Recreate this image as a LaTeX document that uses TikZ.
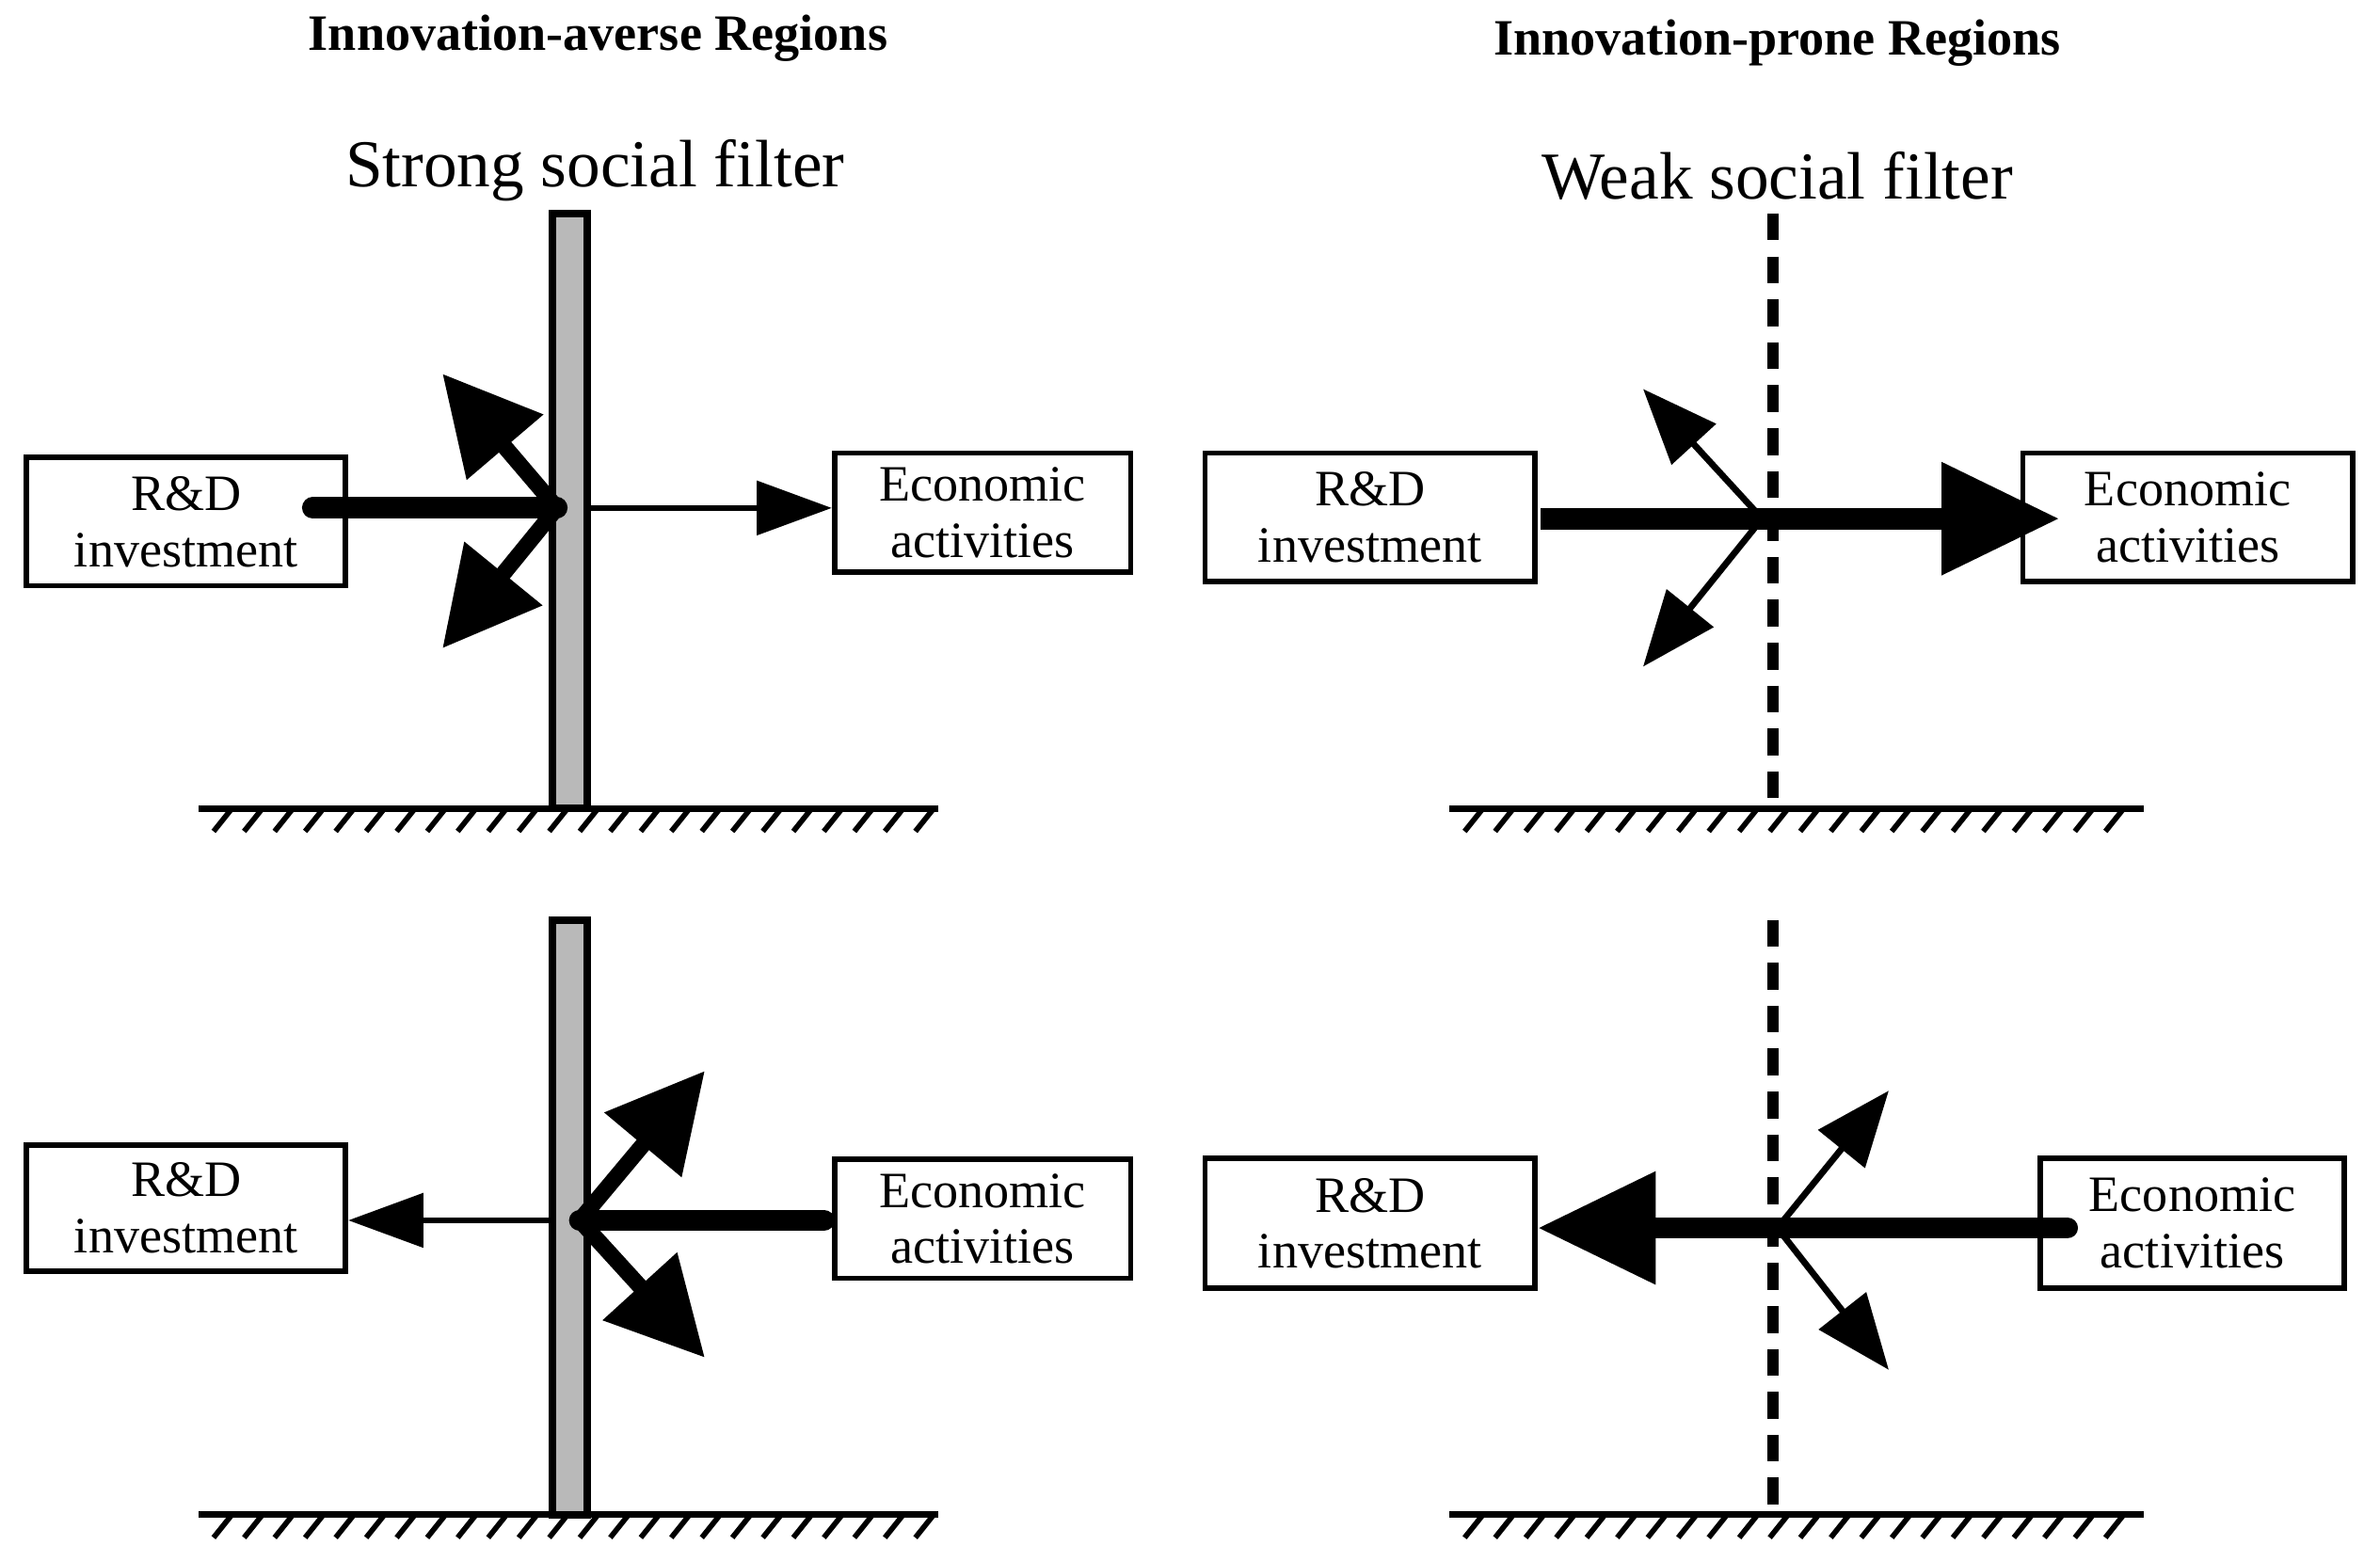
\documentclass[tikz,border=0pt]{standalone}
\usepackage{fontspec}
\setmainfont{Liberation Serif}
\usetikzlibrary{arrows.meta,patterns,positioning}

\begin{document}
\begin{tikzpicture}[
x=0.01cm, y=-0.01cm,
box/.style={
  draw,
  line width=1pt,
  align=center,
  inner sep=0pt,
  font=\fontsize{9.5}{10.5}\selectfont
  },
wall/.style={
  draw,
  line width=1.4pt,
  fill=gray!55
  },
weak/.style={
  line width=2pt,
  dash pattern=on 5pt off 3pt
  },
flow/.style={
  line width=4pt,
  -{Triangle[length=22pt,width=20pt]}
  },
stream/.style={
  line width=1pt,
  -{Triangle[length=14pt,width=10pt]}
  },
bounce/.style={
  line width=3pt,
  -{Triangle[length=18pt,width=18pt]}
  },
leak/.style={
  line width=1.2pt,
  -{Triangle[length=14pt,width=11pt]}
  },
head/.style={
  font=\bfseries\fontsize{9.5}{11}\selectfont
  },
filter/.style={
  font=\fontsize{12.5}{14}\selectfont
  }
]
\useasboundingbox (0,0) rectangle (1560,1023);

% titles
\node[head] (tl) at (392,25) {Innovation-averse Regions};
\node[head] (tr) at (1165,28) {Innovation-prone Regions};
\node[filter] (fl) at (390,112) {Strong social filter};
\node[filter] (fr) at (1165,115) {Weak social filter};

% ground lines
\foreach \gx/\gy/\gw/\ge in {130/530/485/470,130/993/485/470,950/530/455/430,950/993/455/430}
{
  \draw[line width=1.2pt] (\gx,\gy) -- ++(\gw,0);
  \foreach \h in {10,30,...,\ge}
    \draw[line width=1pt] (\gx+\h,\gy+15) -- ++(12,-15);
}

% strong filter walls
\draw[wall] (362,140) rectangle (385,530);
\draw[wall] (362,603) rectangle (385,993);
% weak filters
\draw[weak] (1162,140) -- (1162,530);
\draw[weak] (1162,603) -- (1162,993);

% boxes
\node[box] (rd1) at (122,342) [minimum width=2.09cm, minimum height=0.84cm] {R\&D\\investment};
\node[box] (ea1) at (644,336) [minimum width=1.94cm, minimum height=0.78cm] {Economic\\activities};
\node[box] (rd2) at (122,792) [minimum width=2.09cm, minimum height=0.83cm] {R\&D\\investment};
\node[box] (ea2) at (644,799) [minimum width=1.94cm, minimum height=0.78cm] {Economic\\activities};
\node[box] (rd3) at (898,339) [minimum width=2.16cm, minimum height=0.84cm] {R\&D\\investment};
\node[box] (ea3) at (1434,339) [minimum width=2.16cm, minimum height=0.84cm] {Economic\\activities};
\node[box] (rd4) at (898,802) [minimum width=2.16cm, minimum height=0.85cm] {R\&D\\investment};
\node[box] (ea4) at (1437,802) [minimum width=1.99cm, minimum height=0.85cm] {Economic\\activities};

% hit points
\coordinate (h1) at (365,333);
\coordinate (h2) at (380,800);
\coordinate (h3) at (1155,340);
\coordinate (h4) at (1165,805);

% top left
\draw[line width=4pt, line cap=round] (205,333) -- (h1);
\draw[bounce] (h1) -- (290,245);
\draw[bounce] (h1) -- (290,425);
\draw[stream] (385,333) -- (ea1.west |- h1);

% bottom left
\draw[line width=4pt, line cap=round] (540,800) -- (h2);
\draw[bounce] (h2) -- (462,702);
\draw[bounce] (h2) -- (462,890);
\draw[stream] (362,800) -- (rd2.east |- h2);

% top right
\draw[flow] (1010,340) -- (1350,340);
\draw[leak] (h3) -- (1077,255);
\draw[leak] (h3) -- (1077,437);

% bottom right
\draw[flow, line cap=round] (1355,805) -- (rd4.east |- h4);
\draw[leak] (h4) -- (1238,715);
\draw[leak] (h4) -- (1238,898);
\end{tikzpicture}
\end{document}
